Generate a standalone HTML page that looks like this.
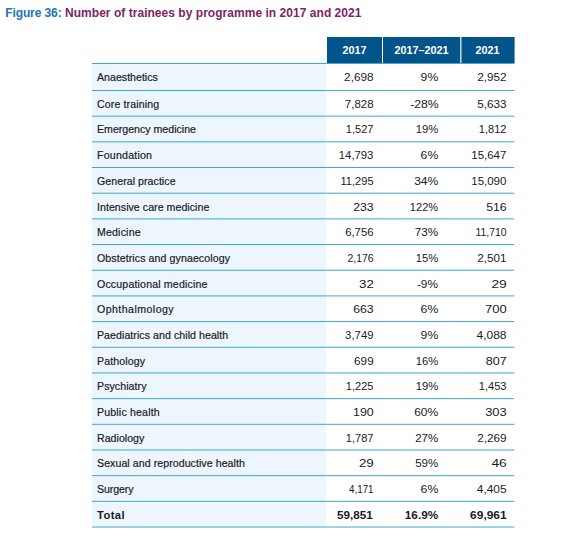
<!DOCTYPE html>
<html><head><meta charset="utf-8"><style>
html,body{margin:0;padding:0;background:#fff;}
body{width:581px;height:539px;position:relative;overflow:hidden;font-family:"Liberation Sans",sans-serif;}
.title{position:absolute;top:3px;font-weight:bold;font-size:12px;line-height:20px;white-space:nowrap;}
.title.b{color:#2173b6}
.title.p{color:#7d2467}
.hd{position:absolute;top:37px;height:26px;background:#03548b;}
.hdt{position:absolute;top:37px;height:26px;line-height:26px;color:#fff;font-weight:bold;font-size:10.8px;text-align:center;white-space:nowrap;}
.ln{position:absolute;left:92px;width:422px;height:1px;background:#3eabc8;box-shadow:0.5px 0 0 rgba(62,171,200,0.5);}
.col1{position:absolute;left:92px;width:234px;background:#eef6fd;}
.tx{position:absolute;height:26px;line-height:26px;color:#1a1a28;white-space:nowrap;-webkit-text-stroke:0.2px #1a1a28;}
.nm{left:97px;font-size:10.6px;}
.nu{font-size:10.6px;text-align:right;-webkit-text-stroke:0px #1a1a28;}
.bold{font-weight:bold;-webkit-text-stroke:0;}
.nm.bold{font-size:11.2px}
.nu.bold{font-size:11px}
</style></head><body>

<div class="title b" style="left:5.20px;letter-spacing:-0.100px">Figure 36:</div>
<div class="title p" style="left:65.00px;letter-spacing:0.035px">Number of trainees by programme in 2017 and 2021</div>
<div class="hd" style="left:327px;width:187px"></div>
<div class="hd" style="left:514px;width:1px;opacity:0.6"></div>
<div style="position:absolute;left:382px;top:37px;width:1px;height:26px;background:#fff"></div>
<div style="position:absolute;left:460px;top:37px;width:1px;height:26px;background:rgba(255,255,255,0.75)"></div>
<div style="position:absolute;left:461px;top:37px;width:1px;height:26px;background:rgba(255,255,255,0.4)"></div>
<div class="hdt" style="left:327px;width:55px">2017</div>
<div class="hdt" style="left:383px;width:77px">2017–2021</div>
<div class="hdt" style="left:461px;width:53px">2021</div>
<div class="col1" style="top:64px;height:463px"></div>
<div class="ln" style="top:63px;opacity:1.00"></div>
<div class="ln" style="top:89px;opacity:0.03"></div>
<div class="ln" style="top:90px;opacity:0.97"></div>
<div class="ln" style="top:115px;opacity:0.35"></div>
<div class="ln" style="top:116px;opacity:0.65"></div>
<div class="ln" style="top:141px;opacity:0.67"></div>
<div class="ln" style="top:142px;opacity:0.33"></div>
<div class="ln" style="top:167px;opacity:0.99"></div>
<div class="ln" style="top:192px;opacity:0.31"></div>
<div class="ln" style="top:193px;opacity:0.69"></div>
<div class="ln" style="top:218px;opacity:0.63"></div>
<div class="ln" style="top:219px;opacity:0.37"></div>
<div class="ln" style="top:244px;opacity:0.95"></div>
<div class="ln" style="top:245px;opacity:0.05"></div>
<div class="ln" style="top:269px;opacity:0.27"></div>
<div class="ln" style="top:270px;opacity:0.73"></div>
<div class="ln" style="top:295px;opacity:0.59"></div>
<div class="ln" style="top:296px;opacity:0.41"></div>
<div class="ln" style="top:321px;opacity:0.91"></div>
<div class="ln" style="top:322px;opacity:0.09"></div>
<div class="ln" style="top:346px;opacity:0.23"></div>
<div class="ln" style="top:347px;opacity:0.77"></div>
<div class="ln" style="top:372px;opacity:0.55"></div>
<div class="ln" style="top:373px;opacity:0.45"></div>
<div class="ln" style="top:398px;opacity:0.87"></div>
<div class="ln" style="top:399px;opacity:0.13"></div>
<div class="ln" style="top:423px;opacity:0.19"></div>
<div class="ln" style="top:424px;opacity:0.81"></div>
<div class="ln" style="top:449px;opacity:0.51"></div>
<div class="ln" style="top:450px;opacity:0.49"></div>
<div class="ln" style="top:475px;opacity:0.83"></div>
<div class="ln" style="top:476px;opacity:0.17"></div>
<div class="ln" style="top:500px;opacity:0.15"></div>
<div class="ln" style="top:501px;opacity:0.85"></div>
<div class="ln" style="top:526px;opacity:0.47"></div>
<div class="ln" style="top:527px;opacity:0.53"></div>
<div class="tx nm" style="top:64.00px;letter-spacing:0.018px">Anaesthetics</div>
<div class="tx nu" style="top:64.00px;right:207.47px;letter-spacing:0.000px;transform:scaleX(1.1089);transform-origin:100% 50%">2,698</div>
<div class="tx nu" style="top:64.00px;right:143.00px;letter-spacing:0.000px;transform:scaleX(1.1567);transform-origin:100% 50%">9%</div>
<div class="tx nu" style="top:64.00px;right:74.42px;letter-spacing:0.000px;transform:scaleX(1.1067);transform-origin:100% 50%">2,952</div>
<div class="tx nm" style="top:91.00px;letter-spacing:0.117px">Core training</div>
<div class="tx nu" style="top:91.00px;right:207.50px;letter-spacing:0.000px;transform:scaleX(1.0808);transform-origin:100% 50%">7,828</div>
<div class="tx nu" style="top:91.00px;right:142.00px;letter-spacing:0.000px;transform:scaleX(1.1541);transform-origin:100% 50%">-28%</div>
<div class="tx nu" style="top:91.00px;right:74.42px;letter-spacing:0.000px;transform:scaleX(1.1067);transform-origin:100% 50%">5,633</div>
<div class="tx nm" style="top:116.00px;letter-spacing:0.000px">Emergency medicine</div>
<div class="tx nu" style="top:116.00px;right:207.50px;letter-spacing:0.000px;transform:scaleX(1.0426);transform-origin:100% 50%">1,527</div>
<div class="tx nu" style="top:116.00px;right:143.12px;letter-spacing:0.000px;transform:scaleX(1.0620);transform-origin:100% 50%">19%</div>
<div class="tx nu" style="top:116.00px;right:74.42px;letter-spacing:0.000px;transform:scaleX(1.0442);transform-origin:100% 50%">1,812</div>
<div class="tx nm" style="top:142.00px;letter-spacing:0.222px">Foundation</div>
<div class="tx nu" style="top:142.00px;right:207.50px;letter-spacing:0.000px;transform:scaleX(1.0670);transform-origin:100% 50%">14,793</div>
<div class="tx nu" style="top:142.00px;right:143.00px;letter-spacing:0.000px;transform:scaleX(1.1567);transform-origin:100% 50%">6%</div>
<div class="tx nu" style="top:142.00px;right:74.90px;letter-spacing:0.000px;transform:scaleX(1.0848);transform-origin:100% 50%">15,647</div>
<div class="tx nm" style="top:168.00px;letter-spacing:0.053px">General practice</div>
<div class="tx nu" style="top:168.00px;right:207.21px;letter-spacing:0.000px;transform:scaleX(1.0491);transform-origin:100% 50%">11,295</div>
<div class="tx nu" style="top:168.00px;right:143.00px;letter-spacing:0.000px;transform:scaleX(1.1341);transform-origin:100% 50%">34%</div>
<div class="tx nu" style="top:168.00px;right:74.90px;letter-spacing:0.000px;transform:scaleX(1.0848);transform-origin:100% 50%">15,090</div>
<div class="tx nm" style="top:194.00px;letter-spacing:0.045px">Intensive care medicine</div>
<div class="tx nu" style="top:194.00px;right:207.50px;letter-spacing:0.000px;transform:scaleX(1.1596);transform-origin:100% 50%">233</div>
<div class="tx nu" style="top:194.00px;right:143.12px;letter-spacing:0.000px;transform:scaleX(1.0424);transform-origin:100% 50%">122%</div>
<div class="tx nu" style="top:194.00px;right:73.90px;letter-spacing:0.000px;transform:scaleX(1.1597);transform-origin:100% 50%">516</div>
<div class="tx nm" style="top:219.00px;letter-spacing:0.171px">Medicine</div>
<div class="tx nu" style="top:219.00px;right:207.47px;letter-spacing:0.000px;transform:scaleX(1.0689);transform-origin:100% 50%">6,756</div>
<div class="tx nu" style="top:219.00px;right:143.00px;letter-spacing:0.000px;transform:scaleX(1.1061);transform-origin:100% 50%">73%</div>
<div class="tx nu" style="top:219.00px;right:73.90px;letter-spacing:0.000px;transform:scaleX(0.9830);transform-origin:100% 50%">11,710</div>
<div class="tx nm" style="top:245.00px;letter-spacing:0.088px">Obstetrics and gynaecology</div>
<div class="tx nu" style="top:245.00px;right:207.50px;letter-spacing:0.000px;transform:scaleX(0.9801);transform-origin:100% 50%">2,176</div>
<div class="tx nu" style="top:245.00px;right:143.12px;letter-spacing:0.000px;transform:scaleX(1.0620);transform-origin:100% 50%">15%</div>
<div class="tx nu" style="top:245.00px;right:74.42px;letter-spacing:0.000px;transform:scaleX(1.1067);transform-origin:100% 50%">2,501</div>
<div class="tx nm" style="top:271.00px;letter-spacing:0.160px">Occupational medicine</div>
<div class="tx nu" style="top:271.00px;right:207.50px;letter-spacing:0.000px;transform:scaleX(1.2555);transform-origin:100% 50%">32</div>
<div class="tx nu" style="top:271.00px;right:143.04px;letter-spacing:0.000px;transform:scaleX(1.1105);transform-origin:100% 50%">-9%</div>
<div class="tx nu" style="top:271.00px;right:73.90px;letter-spacing:0.000px;transform:scaleX(1.3032);transform-origin:100% 50%">29</div>
<div class="tx nm" style="top:296.00px;letter-spacing:0.450px">Ophthalmology</div>
<div class="tx nu" style="top:296.00px;right:207.50px;letter-spacing:0.000px;transform:scaleX(1.1577);transform-origin:100% 50%">663</div>
<div class="tx nu" style="top:296.00px;right:143.00px;letter-spacing:0.000px;transform:scaleX(1.1567);transform-origin:100% 50%">6%</div>
<div class="tx nu" style="top:296.00px;right:73.90px;letter-spacing:0.000px;transform:scaleX(1.2200);transform-origin:100% 50%">700</div>
<div class="tx nm" style="top:322.00px;letter-spacing:0.059px">Paediatrics and child health</div>
<div class="tx nu" style="top:322.00px;right:207.47px;letter-spacing:0.000px;transform:scaleX(1.0722);transform-origin:100% 50%">3,749</div>
<div class="tx nu" style="top:322.00px;right:143.00px;letter-spacing:0.000px;transform:scaleX(1.1567);transform-origin:100% 50%">9%</div>
<div class="tx nu" style="top:322.00px;right:74.24px;letter-spacing:0.000px;transform:scaleX(1.1329);transform-origin:100% 50%">4,088</div>
<div class="tx nm" style="top:348.00px;letter-spacing:0.125px">Pathology</div>
<div class="tx nu" style="top:348.00px;right:207.47px;letter-spacing:0.000px;transform:scaleX(1.1084);transform-origin:100% 50%">699</div>
<div class="tx nu" style="top:348.00px;right:143.12px;letter-spacing:0.000px;transform:scaleX(1.0620);transform-origin:100% 50%">16%</div>
<div class="tx nu" style="top:348.00px;right:73.90px;letter-spacing:0.000px;transform:scaleX(1.1896);transform-origin:100% 50%">807</div>
<div class="tx nm" style="top:373.00px;letter-spacing:0.067px">Psychiatry</div>
<div class="tx nu" style="top:373.00px;right:207.50px;letter-spacing:0.000px;transform:scaleX(1.0426);transform-origin:100% 50%">1,225</div>
<div class="tx nu" style="top:373.00px;right:143.12px;letter-spacing:0.000px;transform:scaleX(1.0620);transform-origin:100% 50%">19%</div>
<div class="tx nu" style="top:373.00px;right:74.42px;letter-spacing:0.000px;transform:scaleX(1.0442);transform-origin:100% 50%">1,453</div>
<div class="tx nm" style="top:399.00px;letter-spacing:0.167px">Public health</div>
<div class="tx nu" style="top:399.00px;right:207.50px;letter-spacing:0.000px;transform:scaleX(1.1682);transform-origin:100% 50%">190</div>
<div class="tx nu" style="top:399.00px;right:143.00px;letter-spacing:0.000px;transform:scaleX(1.1341);transform-origin:100% 50%">60%</div>
<div class="tx nu" style="top:399.00px;right:73.92px;letter-spacing:0.000px;transform:scaleX(1.2147);transform-origin:100% 50%">303</div>
<div class="tx nm" style="top:425.00px;letter-spacing:0.025px">Radiology</div>
<div class="tx nu" style="top:425.00px;right:207.50px;letter-spacing:0.000px;transform:scaleX(1.0426);transform-origin:100% 50%">1,787</div>
<div class="tx nu" style="top:425.00px;right:143.12px;letter-spacing:0.000px;transform:scaleX(1.0860);transform-origin:100% 50%">27%</div>
<div class="tx nu" style="top:425.00px;right:74.42px;letter-spacing:0.000px;transform:scaleX(1.1067);transform-origin:100% 50%">2,269</div>
<div class="tx nm" style="top:450.00px;letter-spacing:0.062px">Sexual and reproductive health</div>
<div class="tx nu" style="top:450.00px;right:207.50px;letter-spacing:0.000px;transform:scaleX(1.2643);transform-origin:100% 50%">29</div>
<div class="tx nu" style="top:450.00px;right:143.12px;letter-spacing:0.000px;transform:scaleX(1.0860);transform-origin:100% 50%">59%</div>
<div class="tx nu" style="top:450.00px;right:73.90px;letter-spacing:0.000px;transform:scaleX(1.3032);transform-origin:100% 50%">46</div>
<div class="tx nm" style="top:476.00px;letter-spacing:-0.100px">Surgery</div>
<div class="tx nu" style="top:476.00px;right:207.50px;letter-spacing:0.000px;transform:scaleX(0.9207);transform-origin:100% 50%">4,171</div>
<div class="tx nu" style="top:476.00px;right:143.00px;letter-spacing:0.000px;transform:scaleX(1.1567);transform-origin:100% 50%">6%</div>
<div class="tx nu" style="top:476.00px;right:74.42px;letter-spacing:0.000px;transform:scaleX(1.1200);transform-origin:100% 50%">4,405</div>
<div class="tx nm bold" style="top:502.00px;letter-spacing:0.400px">Total</div>
<div class="tx nu bold" style="top:502.00px;right:207.97px;letter-spacing:0.000px;transform:scaleX(1.0599);transform-origin:100% 50%">59,851</div>
<div class="tx nu bold" style="top:502.00px;right:143.04px;letter-spacing:0.000px;transform:scaleX(1.0699);transform-origin:100% 50%">16.9%</div>
<div class="tx nu bold" style="top:502.00px;right:74.24px;letter-spacing:0.000px;transform:scaleX(1.0866);transform-origin:100% 50%">69,961</div>
</body></html>
